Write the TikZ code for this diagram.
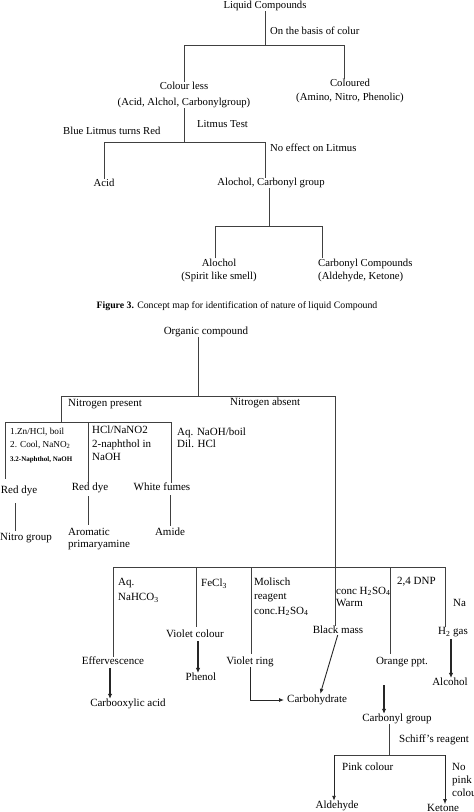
\documentclass[tikz,border=0pt]{standalone}
\usepackage{fontspec}
\setmainfont{Liberation Serif}
\usetikzlibrary{arrows.meta}
\begin{document}
\begin{tikzpicture}[x=1pt,y=-1pt,
  up/.style={font=\fontsize{10.7}{14}\selectfont, inner sep=0pt, align=center},
  lo/.style={font=\fontsize{11}{14}\selectfont, inner sep=0pt},
  sm/.style={font=\fontsize{9.2}{12}\selectfont, inner sep=0pt},
  ln/.style={line width=0.8pt, draw=black!75},
  arr/.style={line width=1.6pt, draw=black!85, -{Latex[length=5pt,width=4.5pt]}},
  tarr/.style={line width=0.9pt, draw=black!85, -{Latex[length=5pt,width=4pt]}}]
\useasboundingbox (0,0) rectangle (474,812);
% ---------------- upper map ----------------
\node[up] (lq) at (265,6) {Liquid Compounds};
\coordinate (j1) at (265,45);
\coordinate (j1l) at (184,45);
\coordinate (j1r) at (344,45);
\draw[ln] (lq.south) -- (j1);
\node[up,anchor=west] (basis) at (270,31) {On the basis of colur};
\node[up,font=\fontsize{10.7}{16}\selectfont] (cl) at (184,95) {Colour less\\(Acid, Alchol, Carbonylgroup)};
\node[up,font=\fontsize{10.7}{14}\selectfont] (co) at (350,91) {Coloured\\(Amino, Nitro, Phenolic)};
\draw[ln] (cl.north) -- (j1l) -- (j1r) -- (co.north -| j1r);
\coordinate (j2) at (184,142);
\coordinate (j2r) at (265,142);
\draw[ln] (cl.south) -- (j2);
\node[up] (acid) at (104,183) {Acid};
\node[up] (ac) at (271,183) {Alochol, Carbonyl group};
\draw[ln] (acid.north) -- (acid.north |- j2) -- (j2r) -- (ac.north -| j2r);
\node[up,anchor=west] (lit) at (197,124) {Litmus Test};
\node[up,anchor=west] (blue) at (63,131) {Blue Litmus turns Red};
\node[up,anchor=west] (noeff) at (270,148) {No effect on Litmus};
\coordinate (j3) at (269,226);
\coordinate (j3l) at (215,226);
\coordinate (j3r) at (322,226);
\draw[ln] (ac.south -| j3) -- (j3);
\node[up,font=\fontsize{10.7}{13}\selectfont] (alc) at (219,270) {Alochol\\(Spirit like smell)};
\node[up,align=left,anchor=west,font=\fontsize{10.7}{13}\selectfont] (cc) at (318,270) {Carbonyl Compounds\\(Aldehyde, Ketone)};
\draw[ln] (alc.north -| j3l) -- (j3l) -- (j3r) -- (cc.north -| j3r);
\node[inner sep=0pt,font=\fontsize{9.8}{12}\selectfont] (cap) at (237,306) {\textbf{Figure 3.} Concept map for identification of nature of liquid Compound};
% ---------------- lower map ----------------
\node[lo] (org) at (206,332) {Organic compound};
\coordinate (k1) at (198,396);
\coordinate (k1l) at (61,396);
\coordinate (k1r) at (335,396);
\draw[ln] (org.south -| k1) -- (k1);
\draw[ln] (k1l) -- (k1r);
\node[lo,anchor=west] (npres) at (68,404) {Nitrogen present};
\node[lo,anchor=west] (nabs) at (230,403) {Nitrogen absent};
\coordinate (k2) at (61,422);
\coordinate (k2a) at (5,422);
\coordinate (k2b) at (88,422);
\coordinate (k2c) at (171,422);
\draw[ln] (k1l) -- (k2);
\draw[ln] (k2a) -- (k2c);
\node[sm,anchor=west] (st1) at (10,432) {1.Zn/HCl, boil};
\node[sm,anchor=west] (st2) at (10,445) {2. Cool, NaNO\textsubscript{2}};
\node[inner sep=0pt,anchor=west,font=\fontsize{7}{8}\selectfont\bfseries] (st3) at (10,460) {3.2-Naphthol, NaOH};
\node[lo,anchor=west,align=left,font=\fontsize{11}{13.5}\selectfont] (hcl) at (92,443.5) {HCl/NaNO2\\2-naphthol in\\NaOH};
\node[lo,anchor=west,align=left,font=\fontsize{11}{11.7}\selectfont] (naoh) at (177,437.5) {Aq. NaOH/boil\\Dil. HCl};
\node[lo] (rd1) at (19,491) {Red dye};
\node[lo] (rd2) at (90,488) {Red dye};
\node[lo] (wf) at (162,487) {White fumes};
\draw[ln,shorten >=7pt] (k2a) -- (k2a |- rd1.north);
\draw[ln] (k2b) -- (k2b |- rd2.north);
\draw[ln] (k2c) -- (k2c |- wf.north);
\coordinate (m1) at (15,0);
\node[lo] (nitro) at (26,538) {Nitro group};
\draw[ln,shorten <=7pt,shorten >=2pt] (rd1.south -| m1) -- (nitro.north -| m1);
\node[lo,anchor=west,align=left,font=\fontsize{11}{12}\selectfont] (arom) at (68,539) {Aromatic\\primaryamine};
\draw[ln,shorten <=3pt,shorten >=3pt] (rd2.south -| k2b) -- (arom.north -| k2b);
\node[lo] (amide) at (170,532) {Amide};
\draw[ln,shorten <=4pt,shorten >=2pt] (wf.south -| amide) -- (amide.north);
% nitrogen absent branch
\coordinate (k3) at (335,567);
\coordinate (k3a) at (113,567);
\coordinate (k3b) at (196,567);
\coordinate (k3c) at (251,567);
\coordinate (k3d) at (335,567);
\coordinate (k3e) at (390,567);
\coordinate (k3f) at (445,567);
\draw[ln] (k1r) -- (k3);
\draw[ln] (k3a) -- (k3f);
\node[lo,anchor=west,align=left,font=\fontsize{11}{15}\selectfont] (nahco) at (118,590.5) {Aq.\\NaHCO\textsubscript{3}};
\node[lo,anchor=west] (fecl) at (201,584) {FeCl\textsubscript{3}};
\node[lo,anchor=west,align=left,font=\fontsize{11}{14.5}\selectfont] (mol) at (254,596.5) {Molisch\\reagent\\conc.H\textsubscript{2}SO\textsubscript{4}};
\node[lo,anchor=west,align=left,font=\fontsize{11}{12.5}\selectfont] (conc) at (336,597) {conc H\textsubscript{2}SO\textsubscript{4}\\Warm};
\node[lo,anchor=west] (dnp) at (397,582) {2,4 DNP};
\node[lo,anchor=west] (na) at (453,603) {Na};
\node[lo] (eff) at (113,661) {Effervescence};
\node[lo] (vc) at (195,634) {Violet colour};
\node[lo] (vr) at (250,662) {Violet ring};
\node[lo] (bm) at (338,630) {Black mass};
\node[lo] (op) at (402,662) {Orange ppt.};
\node[lo] (h2) at (453,632) {H\textsubscript{2} gas};
\draw[ln] (k3a) -- (eff.north -| k3a);
\draw[ln,shorten >=3pt] (k3b) -- (vc.north -| k3b);
\draw[ln,shorten >=3pt] (k3c) -- (vr.north -| k3c);
\draw[ln] (k3d) -- (bm.north -| k3d);
\draw[ln,shorten >=3pt] (k3e) -- (op.north -| k3e);
\draw[ln] (k3f) -- (h2.north -| k3f);
\node[lo] (phen) at (201,677) {Phenol};
\node[lo] (carb) at (128,704) {Carbooxylic acid};
\node[lo,anchor=west] (chyd) at (287,700) {Carbohydrate};
\node[lo] (alc2) at (450,682) {Alcohol};
\node[lo] (cg) at (397,719) {Carbonyl group};
\coordinate (a1) at (198,0);
\coordinate (a2) at (110,0);
\coordinate (a3) at (451,0);
\coordinate (a4) at (384,0);
\coordinate (a5) at (320,0);
\draw[arr,shorten <=3pt] (vc.south -| a1) -- (phen.north -| a1);
\draw[arr,shorten <=3pt] (eff.south -| a2) -- (carb.north -| a2);
\draw[arr,shorten <=2pt] (h2.south -| a3) -- (alc2.north -| a3);
\draw[arr,shorten <=18pt] (op.south -| a4) -- (cg.north -| a4);
\draw[tarr,shorten <=1pt,shorten >=1pt] (bm.south) -- (chyd.north -| a5);
\draw[tarr,shorten <=0pt,shorten >=3pt] (vr.south) |- (chyd.west);
\coordinate (k4) at (389,755);
\coordinate (k4l) at (334,755);
\coordinate (k4r) at (445,755);
\draw[ln] (cg.south -| k4) -- (k4);
\draw[ln] (k4l) -- (k4r);
\node[lo,anchor=west] (schiff) at (399,740) {Schiff's reagent};
\node[lo,anchor=west] (pink) at (342,767) {Pink colour};
\node[lo,anchor=west,align=left,font=\fontsize{11}{13}\selectfont] (nopink) at (452,780) {No\\pink\\colour};
\node[lo] (ald) at (337,806) {Aldehyde};
\node[lo] (ket) at (443,808) {Ketone};
\draw[tarr] (k4l) -- (ald.north -| k4l);
\draw[tarr] (k4r) -- (ket.north -| k4r);
\end{tikzpicture}
\end{document}
